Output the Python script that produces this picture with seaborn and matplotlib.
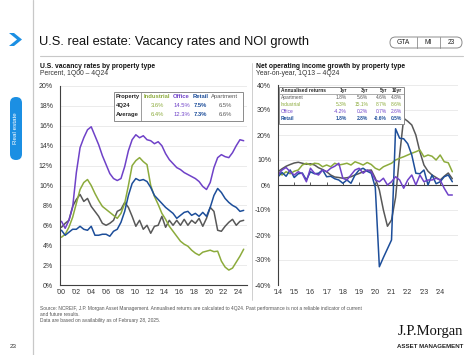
import numpy as np
import pandas as pd
import matplotlib
matplotlib.use('Agg')
import matplotlib.pyplot as plt
import seaborn as sns
from matplotlib.patches import Rectangle, FancyBboxPatch, Polygon

# vacancy rates (%), every half year, 1Q00 - 4Q24
industrial_vac = [4.8, 5.1, 5.8, 6.8, 8.2, 9.6, 10.3, 10.6, 10.0, 9.2,
                  8.5, 7.9, 7.6, 7.3, 7.0, 6.7, 7.2, 8.2, 10.0, 12.0,
                  12.5, 12.8, 12.4, 12.1, 10.0, 8.9, 8.1, 7.2, 6.6, 5.9,
                  5.4, 4.9, 4.4, 4.1, 3.9, 3.5, 3.2, 3.0, 3.3, 3.4,
                  3.5, 3.35, 3.4, 2.4, 1.8, 1.5, 1.7, 2.3, 2.9, 3.6]
office_vac = [6.4, 5.7, 6.5, 7.8, 11.3, 13.8, 14.8, 15.6, 15.9, 15.0,
              14.1, 13.0, 12.1, 11.2, 10.7, 10.5, 10.7, 11.9, 13.5, 14.6,
              15.1, 14.8, 15.0, 14.6, 14.5, 14.2, 14.4, 14.0, 13.2, 12.6,
              12.2, 11.8, 11.6, 11.3, 11.1, 10.9, 10.7, 10.4, 9.9, 9.6,
              10.3, 11.8, 12.8, 13.1, 12.9, 12.8, 13.3, 14.0, 14.6, 14.5]
retail_vac = [5.5, 5.0, 5.3, 5.6, 5.6, 5.9, 5.6, 5.5, 5.9, 5.0,
              5.0, 5.1, 5.1, 4.9, 5.4, 5.6, 6.3, 7.4, 9.0, 10.2,
              10.7, 10.5, 10.6, 10.4, 9.8, 9.0, 8.6, 8.2, 7.8, 7.5,
              7.2, 6.7, 7.0, 7.3, 7.4, 7.0, 7.2, 6.9, 7.3, 6.9,
              7.8, 9.0, 9.7, 9.3, 8.7, 8.3, 8.0, 7.8, 7.4, 7.5]
apartment_vac = [5.8, 6.2, 6.5, 7.9, 8.6, 9.1, 8.4, 8.7, 7.9, 7.4,
                 6.9, 6.2, 6.0, 6.2, 6.5, 7.4, 7.6, 8.3, 7.8, 6.9,
                 5.9, 6.5, 5.6, 6.0, 5.2, 5.9, 6.0, 6.9, 5.8, 6.5,
                 6.0, 6.5, 6.0, 6.6, 6.0, 6.5, 6.2, 6.7, 5.9, 6.7,
                 7.8, 7.4, 5.5, 5.4, 5.9, 6.3, 6.6, 6.0, 6.4, 6.5]

# NOI growth y/y (%), quarterly 1Q14 - 4Q24
apartment_noi = [5.3, 6.5, 7.5, 8.2, 8.8, 9.1, 8.7, 8.3, 8.5, 8.0,
                 6.9, 6.2, 5.3, 4.0, 3.2, 3.0, 2.7, 2.9, 3.3, 4.0,
                 4.6, 5.3, 5.8, 6.0, 2.7, -2.0, -10.0, -16.5, -14.0, -5.0,
                 12.0, 26.7, 25.5, 24.0, 20.0, 13.3, 8.0, 5.5, 4.0, 3.0,
                 2.0, 3.5, 4.8, 2.5]
industrial_noi = [5.3, 4.0, 5.3, 4.5, 5.5, 6.0, 8.0, 8.7, 8.0, 8.7,
                  8.5, 7.3, 8.0, 7.3, 8.7, 8.0, 8.3, 8.7, 8.0, 9.3,
                  8.7, 8.0, 9.0, 8.2, 6.7, 6.0, 7.3, 8.0, 8.7, 10.0,
                  10.7, 11.3, 12.0, 12.7, 13.3, 14.0, 11.3, 12.0, 11.5, 10.0,
                  12.0, 9.3, 8.9, 5.3]
office_noi = [4.0, 6.0, 7.0, 5.3, 4.0, 5.3, 4.5, 1.3, 6.7, 4.7,
              4.0, 6.0, 5.3, 6.7, 7.5, 8.7, 2.7, 2.0, 4.0, 6.0,
              6.7, 4.7, 6.0, 5.3, 2.0, 1.3, 2.7, 0.0, 1.3, 3.3,
              2.0, -1.3, 2.0, 4.0, 0.0, 4.0, 1.3, 2.0, 2.0, 2.7,
              2.0, -1.3, -4.0, -4.0]
retail_noi = [3.3, 5.0, 3.5, 6.0, 3.0, 4.5, 4.8, 2.0, 5.3, 4.5,
              4.7, 6.0, 3.3, 3.5, 2.5, 2.0, 0.7, 2.0, 0.7, 4.0,
              6.0, 6.7, 5.5, 4.7, -1.0, -32.7, -29.0, -25.5, -22.0, 22.5,
              18.7, 18.5, 16.5, 12.0, 4.7, 4.5, 6.0, 0.0, 4.0, 0.5,
              1.3, 3.3, 4.0, 1.3]

# inset tables
vac_cols = ['Industrial', 'Office', 'Retail', 'Apartment']
vac_4q24 = ['3.6%', '14.5%', '7.5%', '6.5%']
vac_avg = ['6.4%', '12.3%', '7.3%', '6.6%']

ret_cols = ['1yr', '3yr', '5yr', '10yr']
ret_rows = ['Apartment', 'Industrial', 'Office', 'Retail']
ret_apartment = ['1.8%', '5.6%', '4.6%', '4.8%']
ret_industrial = ['5.3%', '15.1%', '8.7%', '8.6%']
ret_office = ['-4.2%', '0.2%', '0.7%', '2.6%']
ret_retail = ['1.8%', '2.8%', '-0.6%', '0.5%']

colors = {'Industrial': '#8cab3c', 'Office': '#6f42c8',
          'Retail': '#1d4e9a', 'Apartment': '#585858'}
blue = '#1b8fe3'
dark = '#404040'

sns.set_style('white')
plt.rcParams['font.family'] = ['Liberation Sans', 'DejaVu Sans']

W, H = 474, 355
fig = plt.figure(figsize=(W / 100, H / 100), dpi=100)


def px_box(x0, y0, x1, y1):
    return [x0 / W, 1 - y1 / H, (x1 - x0) / W, (y1 - y0) / H]


order = ['Apartment', 'Industrial', 'Retail', 'Office']

# left: vacancy rates
vac_t = np.linspace(2000, 2024.75, len(office_vac))
vac = pd.DataFrame({'t': vac_t, 'Industrial': industrial_vac, 'Office': office_vac,
                    'Retail': retail_vac, 'Apartment': apartment_vac})
vac = vac.melt('t', var_name='type', value_name='rate')

ax1 = fig.add_axes(px_box(60, 86, 247, 285))
sns.lineplot(data=vac, x='t', y='rate', hue='type', hue_order=order,
             palette=colors, lw=1.1, legend=False, ax=ax1)
ax1.set_xlim(1999.8, 2025.2)
ax1.set_ylim(0, 20)
ax1.set_xticks(range(2000, 2025, 2))
ax1.set_xticklabels(["'%02d" % (y % 100) for y in range(2000, 2025, 2)])
ax1.set_yticks(range(0, 21, 2))
ax1.set_yticklabels(['%d%%' % v for v in range(0, 21, 2)])

# right: NOI growth
noi_t = np.arange(len(office_noi)) * 0.25 + 2014
noi = pd.DataFrame({'t': noi_t, 'Industrial': industrial_noi, 'Office': office_noi,
                    'Retail': retail_noi, 'Apartment': apartment_noi})
noi = noi.melt('t', var_name='type', value_name='growth')

ax2 = fig.add_axes(px_box(278, 85, 458, 285))
ax2.axhline(0, color=dark, lw=0.8, zorder=1.5)
sns.lineplot(data=noi, x='t', y='growth', hue='type', hue_order=order,
             palette=colors, lw=1.1, legend=False, ax=ax2)
ax2.set_xlim(2014, 2025.1)
ax2.set_ylim(-40, 40)
ax2.set_xticks(range(2014, 2025))
ax2.set_xticklabels(["'%02d" % (y % 100) for y in range(2014, 2025)])
ax2.set_yticks(range(-40, 41, 10))
ax2.set_yticklabels(['%d%%' % v for v in range(-40, 41, 10)])
sec = ax2.secondary_xaxis(0.5)
sec.set_xticks(range(2014, 2025))
sec.tick_params(direction='out', length=2, width=0.6, color=dark,
                labelbottom=False, labeltop=False)
for s in sec.spines.values():
    s.set_visible(False)

for ax in (ax1, ax2):
    ax.set_xlabel('')
    ax.set_ylabel('')
    ax.grid(axis='y', color='#e3e3e3', lw=0.5)
    ax.set_axisbelow(True)
    ax.tick_params(length=0, labelsize=5, colors='#333333')
    ax.tick_params(axis='y', pad=5)
    ax.tick_params(axis='x', pad=3)
    for side in ('top', 'right'):
        ax.spines[side].set_visible(False)
    ax.spines['left'].set_color(dark)
    ax.spines['left'].set_linewidth(0.8)
ax1.spines['bottom'].set_color(dark)
ax1.spines['bottom'].set_linewidth(0.8)
ax2.spines['bottom'].set_visible(False)

# overlay in pixel coordinates for the slide furniture
ov = fig.add_axes([0, 0, 1, 1], zorder=5)
ov.set_xlim(0, W)
ov.set_ylim(H, 0)
ov.axis('off')

ov.plot([33, 33], [0, H], color='#c8c8c8', lw=0.9)
ov.add_patch(Polygon([(9, 33), (14, 33), (22, 39.5), (14, 46), (9, 46), (17, 39.5)],
                     closed=True, color=blue, lw=0))
ov.text(39.5, 42, 'U.S. real estate: Vacancy rates and NOI growth', fontsize=9.3,
        va='center', ha='left', color='#111111')

ov.add_patch(FancyBboxPatch((390, 37), 72, 11, boxstyle='round,pad=0,rounding_size=5.5',
                            fc='white', ec='#8c8c8c', lw=0.7))
ov.plot([417, 417], [37, 48], color='#8c8c8c', lw=0.6)
ov.plot([440, 440], [37, 48], color='#8c8c8c', lw=0.6)
for xx, lab in [(403.5, 'GTA'), (428.5, 'MI'), (451, '23')]:
    ov.text(xx, 42.7, lab, fontsize=4.8, ha='center', va='center', color='#222222')

ov.plot([40, 463], [56, 56], color='#c8c8c8', lw=0.8)
ov.plot([252, 252], [63, 300], color='#c8c8c8', lw=0.6)

ov.text(40, 67, 'U.S. vacancy rates by property type', fontsize=4.9,
        fontweight='bold', va='center', color='#111111')
ov.text(40, 73.5, 'Percent, 1Q00 – 4Q24', fontsize=4.9, va='center', color='#333333')
ov.text(256, 67, 'Net operating income growth by property type', fontsize=4.9,
        fontweight='bold', va='center', color='#111111')
ov.text(256, 73.5, 'Year-on-year, 1Q13 – 4Q24', fontsize=4.9, va='center', color='#333333')

# side tab
ov.add_patch(FancyBboxPatch((10, 97), 12, 63, boxstyle='round,pad=0,rounding_size=6',
                            fc=blue, ec='none'))
ov.text(16, 128.5, 'Real estate', rotation=90, fontsize=4.5, color='white',
        ha='center', va='center')

# vacancy table
fs_v = 4.2
ov.add_patch(Rectangle((115, 93), 129, 29, fc='#bdbdbd', ec='none'))
ov.add_patch(Rectangle((114, 92), 129, 29, fc='white', ec='#8c8c8c', lw=0.7))
ov.plot([141.5, 141.5], [92, 121], color='#8c8c8c', lw=0.6)
ov.text(116, 96.5, 'Property', fontsize=fs_v, fontweight='bold', va='center')
ov.text(116, 105.5, '4Q24', fontsize=fs_v, fontweight='bold', va='center')
ov.text(116, 114.5, 'Average', fontsize=fs_v, fontweight='bold', va='center')
for xx, name, v1, v2 in zip([157, 181.5, 200.5, 225], vac_cols, vac_4q24, vac_avg):
    wt = 'bold' if name == 'Retail' else 'normal'
    hw = 'normal' if name == 'Apartment' else 'bold'
    ov.text(xx, 96.5, name, fontsize=fs_v, fontweight=hw, color=colors[name],
            ha='center', va='center')
    ov.text(xx, 105.5, v1, fontsize=fs_v, fontweight=wt, color=colors[name],
            ha='center', va='center')
    ov.text(xx, 114.5, v2, fontsize=fs_v, fontweight=wt, color=colors[name],
            ha='center', va='center')

# annualised returns table
fs_r = 3.5
ov.add_patch(Rectangle((280, 88), 125, 37, fc='#bdbdbd', ec='none'))
ov.add_patch(Rectangle((279, 87), 125, 37, fc='white', ec='#8c8c8c', lw=0.7))
ov.plot([279, 404], [93.5, 93.5], color='#8c8c8c', lw=0.5)
ov.text(281, 90.5, 'Annualised returns', fontsize=fs_r, fontweight='bold', va='center')
col_x = [347, 368, 387, 402]
for xx, c in zip(col_x, ret_cols):
    ov.text(xx, 90.5, c, fontsize=fs_r, fontweight='bold', ha='right', va='center')
ret_vals = [ret_apartment, ret_industrial, ret_office, ret_retail]
for yy, name, vals in zip([97.5, 104.5, 111.5, 118.5], ret_rows, ret_vals):
    wt = 'bold' if name == 'Retail' else 'normal'
    ov.text(281, yy, name, fontsize=fs_r, fontweight=wt, color=colors[name], va='center')
    for xx, v in zip(col_x, vals):
        ov.text(xx, yy, v, fontsize=fs_r, fontweight=wt, color=colors[name],
                ha='right', va='center')

# footnotes and branding
ov.text(40, 306, 'Source: NCREIF, J.P. Morgan Asset Management. Annualised returns are calculated to 4Q24. '
        'Past performance is not a reliable indicator of current\nand future results.\n'
        'Data are based on availability as of February 28, 2025.',
        fontsize=3.5, color='#555555', va='top', linespacing=1.25)
ov.text(463, 331, 'J.P.Morgan', fontsize=10.5, family=['Liberation Serif', 'DejaVu Serif'],
        ha='right', va='center', color='#111111')
ov.text(463, 346.5, 'ASSET MANAGEMENT', fontsize=4.4, fontweight='bold',
        ha='right', va='center', color='#222222')
ov.text(10, 347, '23', fontsize=4.6, va='center', color='#333333')

fig.savefig('out.png', dpi=100)
